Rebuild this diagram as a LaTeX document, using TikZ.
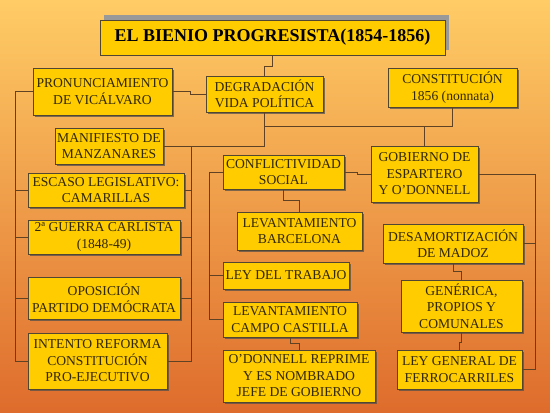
\documentclass[tikz,border=0pt]{standalone}
\usepackage{fontspec}
\setmainfont{Liberation Serif}
\usetikzlibrary{shadows}
\definecolor{amarillo}{RGB}{255,204,0}
\definecolor{fondoalto}{RGB}{255,204,102}
\definecolor{fondomedio}{RGB}{242,168,88}
\definecolor{fondobajo}{RGB}{222,108,44}
\definecolor{linea}{RGB}{95,65,35}
\definecolor{borde}{RGB}{80,70,50}
\definecolor{letra}{RGB}{50,40,0}

\begin{document}
\begin{tikzpicture}[x=1pt,y=-1pt,line width=0.8pt,color=linea,
  caja/.style={draw=borde,fill=amarillo,text=letra,align=center,inner sep=0pt,
    font=\fontsize{13.6}{16.5}\selectfont,
    drop shadow={shadow xshift=2pt,shadow yshift=-2pt,opacity=0.7,fill=black!70}},
  titulo/.style={draw=borde,fill=amarillo,text=black,inner sep=0pt,
    minimum width=345pt,minimum height=35pt,
    font=\bfseries\fontsize{18}{20}\selectfont,
    drop shadow={shadow xshift=4pt,shadow yshift=5pt,opacity=1,fill=black!40}},
  tam/.style 2 args={minimum width=#1pt,minimum height=#2pt}]

\useasboundingbox (0,0) rectangle (550,413);
\shade[top color=fondoalto,middle color=fondomedio,bottom color=fondobajo] (0,0) rectangle (550,413);

\node[titulo] (titulo) at (272.5,37.5) {EL BIENIO PROGRESISTA(1854-1856)};

\node[caja,tam={139}{47}] (pronun) at (102.5,91.5) {PRONUNCIAMIENTO\\DE VICÁLVARO};
\node[caja,tam={117}{36}] (degrad) at (264.5,94) {DEGRADACIÓN\\VIDA POLÍTICA};
\node[caja,tam={129}{39}] (constit) at (452.5,87.5) {CONSTITUCIÓN\\1856 (nonnata)};

\node[caja,tam={108}{36}] (manif) at (109,146) {MANIFIESTO DE\\MANZANARES};
\node[caja,tam={156}{34}] (escaso) at (106,190) {ESCASO LEGISLATIVO:\\CAMARILLAS};
\node[caja,tam={152}{34}] (guerra) at (104,237) {2ª GUERRA CARLISTA\\(1848-49)};
\node[caja,tam={152}{42}] (oposic) at (104,298) {OPOSICIÓN\\PARTIDO DEMÓCRATA};
\node[caja,tam={139}{56}] (intento) at (97.5,361) {INTENTO REFORMA\\CONSTITUCIÓN\\PRO-EJECUTIVO};

\node[caja,tam={121}{34}] (conflic) at (283.5,172) {CONFLICTIVIDAD\\SOCIAL};
\node[caja,tam={125}{38}] (barcel) at (299.5,231) {LEVANTAMIENTO\\BARCELONA};
\node[caja,tam={126}{27}] (trabajo) at (286,275.5) {LEY DEL TRABAJO};
\node[caja,tam={134}{35}] (campo) at (290,319.5) {LEVANTAMIENTO\\CAMPO CASTILLA};
\node[caja,tam={152}{52}] (odonnell) at (299,376) {O’DONNELL REPRIME\\Y ES NOMBRADO\\JEFE DE GOBIERNO};

\node[caja,tam={107}{56}] (gobierno) at (424.5,174) {GOBIERNO DE\\ESPARTERO\\Y O’DONNELL};
\node[caja,tam={140}{39}] (desamort) at (453,243.5) {DESAMORTIZACIÓN\\DE MADOZ};
\node[caja,tam={121}{52}] (generica) at (461.5,306) {GENÉRICA,\\PROPIOS Y\\COMUNALES};
\node[caja,tam={125}{39}] (leygen) at (459.5,369.5) {LEY GENERAL DE\\FERROCARRILES};

\coordinate (izq) at (15,0);
\coordinate (der) at (191,0);
\coordinate (cen) at (209,0);
\coordinate (lat) at (535,0);
\coordinate (nudo) at (0,126);

\draw (titulo.south) -- ++(0,11) -| (degrad.north);
\draw (pronun.east) -- ++(18,0) |- (degrad.west);
\draw (degrad.south) |- (manif.east);
\draw (degrad.south) |- (nudo -| constit.south) -- (constit.south);
\draw (gobierno.north) -- (gobierno.north |- nudo);

\draw (pronun.west) -- (pronun.west -| izq) -- (intento.west -| izq) -- (intento.west);
\foreach \n in {escaso,guerra,oposic} \draw (\n.west) -- (\n.west -| izq);
\draw (manif.east) -- (manif.east -| der) -- (intento.east -| der) -- (intento.east);
\foreach \n in {escaso,guerra,oposic} \draw (\n.east) -- (\n.east -| der);

\draw (conflic.east) -- ++(13,0) |- (gobierno.west);
\draw (conflic.west) -- (conflic.west -| cen) -- (campo.west -| cen) -- (campo.west);
\draw (trabajo.west) -- (trabajo.west -| cen);
\draw (conflic.south) -- ++(0,11) -| (barcel.north);
\draw (campo.south) -- ++(0,6) -| (odonnell.north);

\draw (gobierno.east) -- (gobierno.east -| lat) -- (leygen.east -| lat) -- (leygen.east);
\draw (desamort.east) -- (desamort.east -| lat);
\draw (desamort.south) -- ++(0,8) -| (generica.north);
\draw (generica.south) -- ++(0,10) -| (leygen.north);

\end{tikzpicture}
\end{document}
